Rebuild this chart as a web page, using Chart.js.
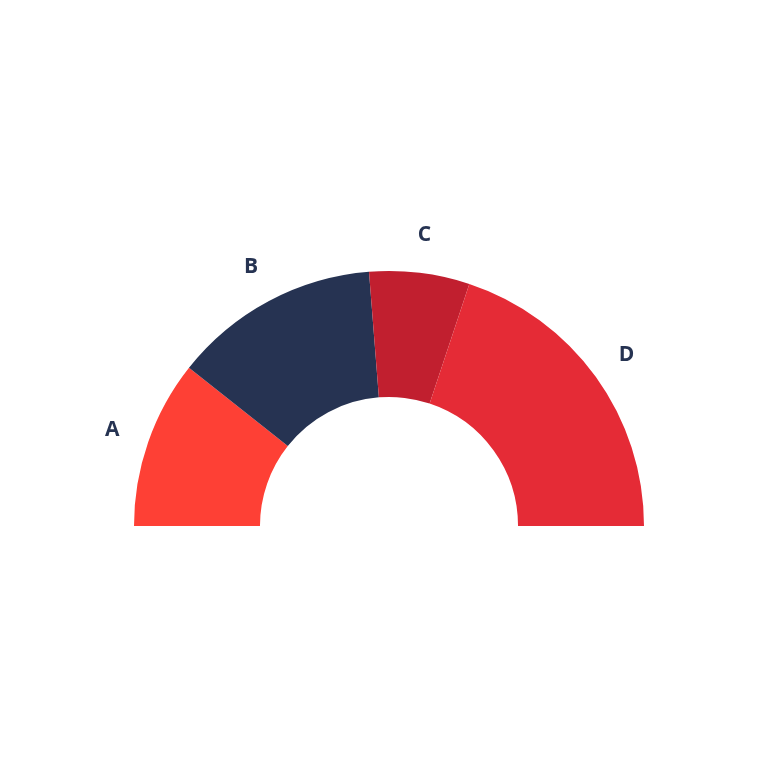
<!DOCTYPE html>
<html>
<head>
<meta charset="utf-8">
<script src="https://cdn.jsdelivr.net/npm/chart.js@4"></script>
<style>
  html, body { margin: 0; padding: 0; background: #ffffff; }
  #wrap { width: 768px; height: 768px; }
</style>
</head>
<body>
<div id="wrap"><canvas id="gauge" width="768" height="768"></canvas></div>
<script>
// Data
const categories = ["A", "B", "C", "D"];
const values = [21.3, 26.2, 12.7, 39.8];
const colors = ["#FE4035", "#263352", "#C11F2F", "#E52B36"];

const LABEL_COLOR = "#263352";
const LABEL_GAP = 38;

// draws the category letters just outside each slice
const outsideLabels = {
  id: "outsideLabels",
  afterDatasetsDraw(chart) {
    const ctx = chart.ctx;
    const meta = chart.getDatasetMeta(0);
    ctx.save();
    ctx.font = "bold 21px 'Open Sans', sans-serif";
    ctx.fillStyle = LABEL_COLOR;
    ctx.textAlign = "center";
    ctx.textBaseline = "middle";
    meta.data.forEach((arc, i) => {
      const p = arc.getProps(["x", "y", "startAngle", "endAngle", "outerRadius"], true);
      const mid = (p.startAngle + p.endAngle) / 2;
      const r = p.outerRadius + LABEL_GAP;
      ctx.fillText(categories[i], p.x + Math.cos(mid) * r, p.y + Math.sin(mid) * r);
    });
    ctx.restore();
  }
};

const setup = () => {
  const ctx = document.getElementById("gauge").getContext("2d");
  new Chart(ctx, {
    type: "doughnut",
    data: {
      labels: categories,
      datasets: [{
        data: values,
        backgroundColor: colors,
        borderWidth: 0
      }]
    },
    options: {
      responsive: false,
      animation: false,
      rotation: -90,
      circumference: 180,
      cutout: "50.6%",
      layout: {
        padding: { left: 134, right: 124, top: 271, bottom: 242 }
      },
      plugins: {
        legend: { display: false },
        tooltip: { enabled: false }
      }
    },
    plugins: [outsideLabels]
  });
};

window.addEventListener("load", setup);
</script>
</body>
</html>
